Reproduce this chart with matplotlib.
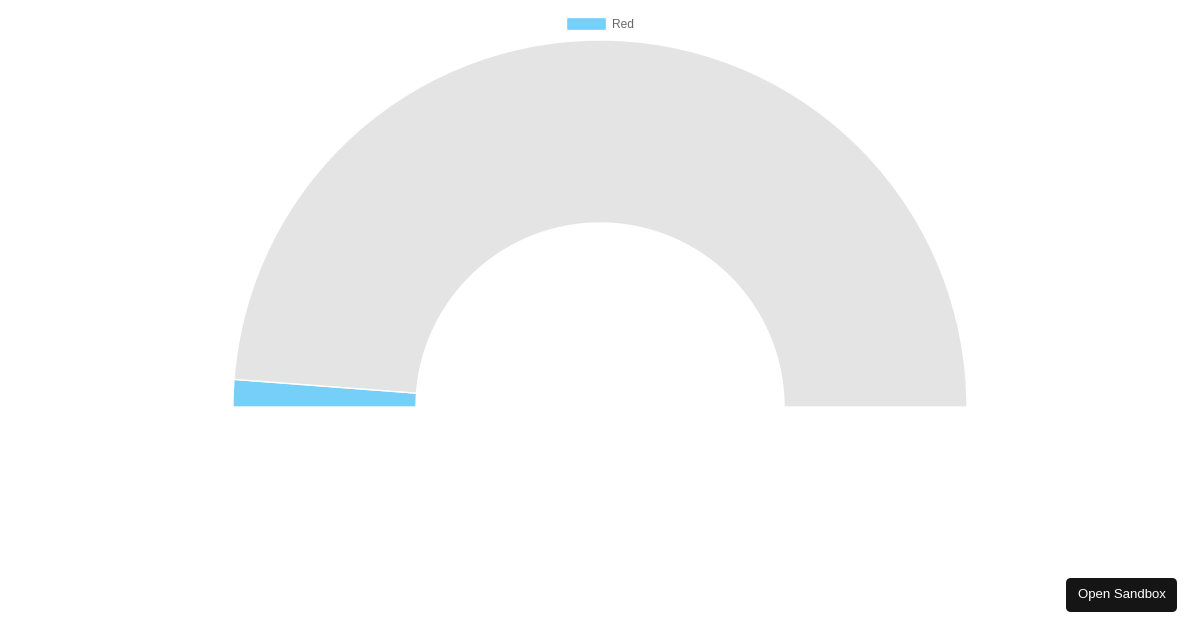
import matplotlib
matplotlib.use('Agg')
from matplotlib import pyplot as plt
from matplotlib.patches import FancyBboxPatch

#Gauge data: the filled part and the rest of the half ring
labels = ['Red', '', '']
values = [2.4, 97.6, 100.0]
colors = ['#75CFF8', '#E4E4E4', 'none']
legend_label = 'Red'
button_text = 'Open Sandbox'

plt.rcParams['font.family'] = ['Liberation Sans', 'DejaVu Sans']


def main():
    fig = plt.figure(figsize=(12, 6.3), dpi=100)
    ax = fig.add_axes([0, 0, 1, 1])

    #Half doughnut, centre and radius in pixel units of the axes
    wedges, _ = ax.pie(values, colors=colors, startangle=180, counterclock=False,
                       center=(600, 223), radius=367, frame=True,
                       wedgeprops=dict(width=183, edgecolor='white', linewidth=1))
    wedges[2].set_edgecolor('none')

    ax.set_xlim(0, 1200)
    ax.set_ylim(0, 630)
    ax.set_aspect('auto')
    ax.axis('off')

    #Legend on top
    ax.legend(wedges[:1], [legend_label], loc='upper center', bbox_to_anchor=(0.5, 0.9905),
              frameon=False, fontsize=8.64, handlelength=3.3, handleheight=1.35,
              handletextpad=0.55, labelcolor='#666666')

    #The sandbox button in the corner
    btn = FancyBboxPatch((1066, 630 - 612), 111, 34,
                         boxstyle='round,pad=0,rounding_size=5',
                         facecolor='#151515', edgecolor='none')
    ax.add_patch(btn)
    ax.text(1121.5, 630 - 595, button_text, color='white', fontsize=9.5,
            ha='center', va='center')

    fig.savefig('out.png', dpi=100)


if __name__ == '__main__':
    main()
